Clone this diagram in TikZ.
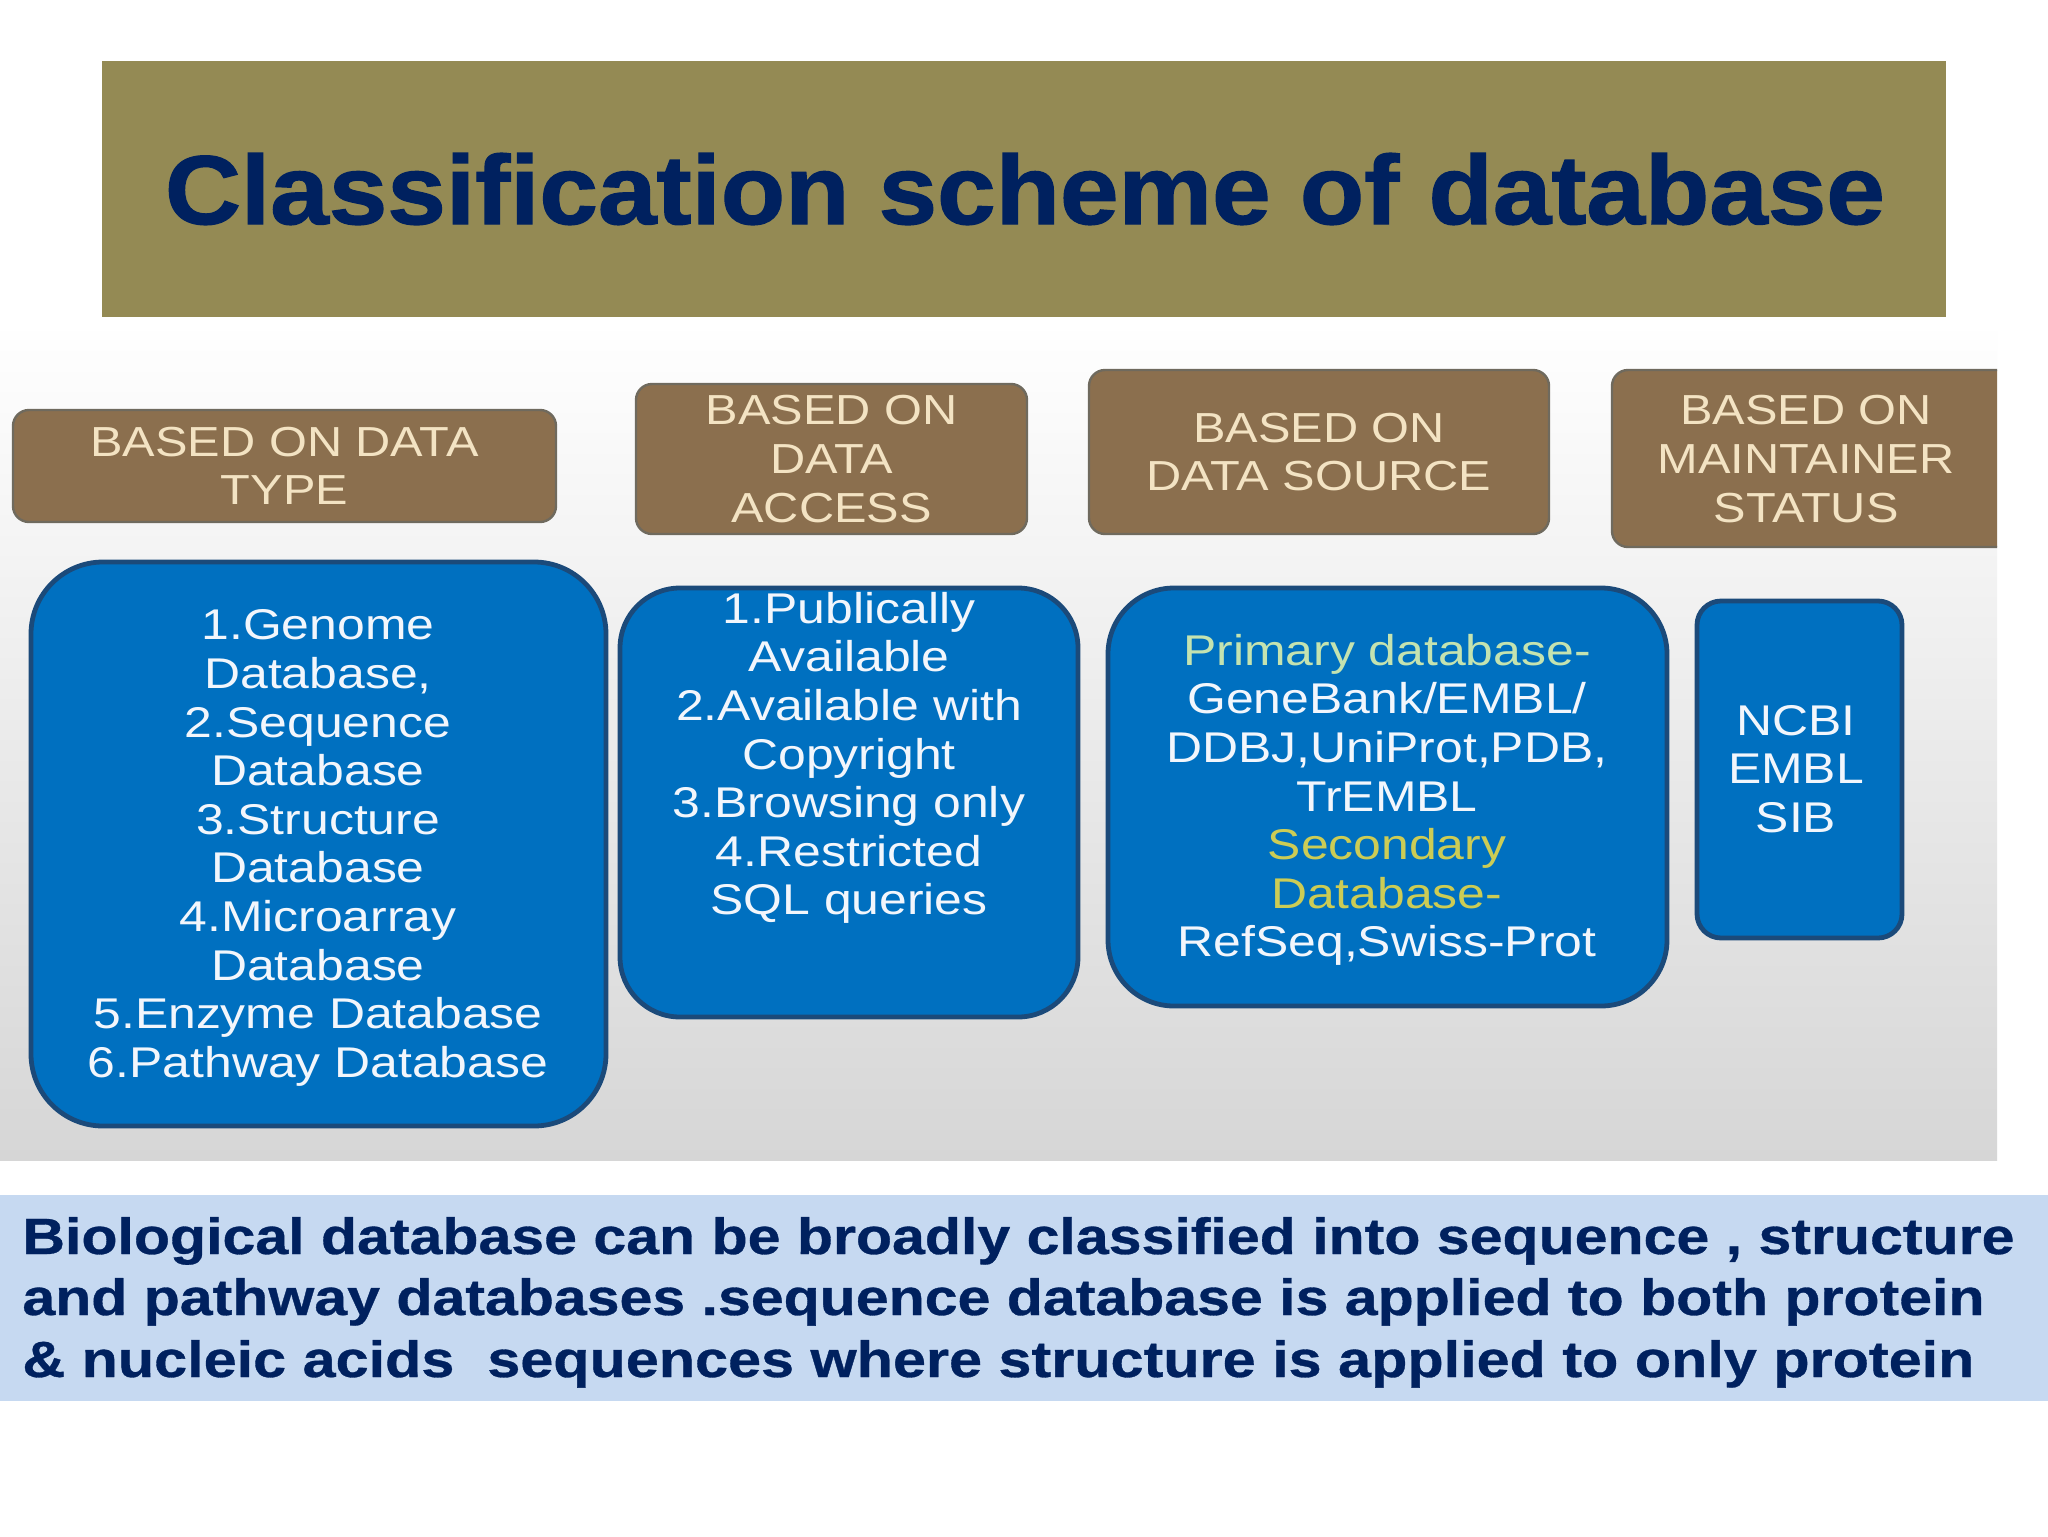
\documentclass[tikz,border=0pt]{standalone}
\usepackage{fontspec}
\usepackage{graphicx}
\setmainfont{Liberation Sans}
\newfontfamily\boxfont[FakeStretch=1.16]{Liberation Sans}
\newfontfamily\titlefont[BoldFeatures={FakeBold=1.2}]{Liberation Sans}
\newfontfamily\bandfont[BoldFeatures={FakeBold=0.6}]{Liberation Sans}
\definecolor{titlebg}{HTML}{948A54}
\definecolor{navytxt}{HTML}{00215F}
\definecolor{hdrbg}{HTML}{8B6F4E}
\definecolor{hdrline}{HTML}{6F6A5E}
\definecolor{hdrtext}{HTML}{F3E3C3}
\definecolor{bboxbg}{HTML}{0070C0}
\definecolor{bboxline}{HTML}{1B4A7A}
\definecolor{bboxtext}{HTML}{F2F6FC}
\definecolor{primgreen}{HTML}{C4E3B0}
\definecolor{secyellow}{HTML}{CCCC55}
\definecolor{bandbg}{HTML}{C6D9F1}
\definecolor{shotgray}{HTML}{D6D6D6}
\tikzset{
  hdr/.style={draw=hdrline, line width=1.2pt, fill=hdrbg, rounded corners=8pt, inner sep=0pt,
    align=center, text=hdrtext, font=\boxfont\fontsize{21}{24.3}\selectfont},
  hdrtxt/.style={inner sep=0pt, align=center, text=hdrtext, font=\boxfont\fontsize{21}{24.3}\selectfont},
  bbox/.style={draw=bboxline, line width=2.4pt, fill=bboxbg, inner sep=0pt},
  btxt/.style={inner sep=0pt, align=center, text=bboxtext, font=\boxfont\fontsize{21.5}{24.3}\selectfont},
  bandline/.style={anchor=base west, inner sep=0pt, text=navytxt, font=\bandfont\bfseries\fontsize{25.5}{30}\selectfont}
}
\begin{document}
\begin{tikzpicture}[x=0.5pt,y=-0.5pt]
\useasboundingbox (0,0) rectangle (2048,1536);
\fill[white] (0,0) rectangle (2048,1536);
% screenshot area
\shade[top color=white, bottom color=shotgray] (0,320) rectangle (1997,1160);

% title banner
\node[fill=titlebg, minimum width=922pt, minimum height=128pt, inner sep=0pt] (banner) at (1024,189) {};
\node[inner sep=0pt, text=navytxt] (title) at (1025,189)
  {\resizebox{860pt}{\height}{\titlefont\bfseries\fontsize{49}{58}\selectfont Classification scheme of database}};

% headers
\node[hdr, minimum width=271.5pt, minimum height=56pt] (h1) at (284.5,466) {BASED ON DATA\\TYPE};
\node[hdr, minimum width=195.5pt, minimum height=75pt] (h2) at (831.5,459) {BASED ON\\DATA\\ACCESS};
\node[hdr, minimum width=230pt, minimum height=82pt] (h3) at (1319,452) {BASED ON\\DATA SOURCE};
\begin{scope}
  \clip (0,0) rectangle (1997,1536);
  \node[hdr, minimum width=209pt, minimum height=88.5pt] (h4) at (1821,458.5) {};
\end{scope}
\node[hdrtxt] (h4t) at (1806,459) {BASED ON\\MAINTAINER\\STATUS};

% blue boxes
\node[bbox, rounded corners=36pt, minimum width=287.5pt, minimum height=282pt] (b1) at (318.5,844) {};
\node[btxt] (b1t) at (318,848) {1.Genome\\Database,\\2.Sequence\\Database\\3.Structure\\Database\\4.Microarray\\Database\\5.Enzyme Database\\6.Pathway Database};

\node[bbox, rounded corners=30pt, minimum width=229pt, minimum height=214.5pt] (b2) at (849,802.5) {};
\node[btxt] (b2t) at (849,758) {1.Publically\\Available\\2.Available with\\Copyright\\3.Browsing only\\4.Restricted\\SQL queries};

\node[bbox, rounded corners=33pt, minimum width=279.5pt, minimum height=209pt] (b3) at (1387.5,797) {};
\node[btxt] (b3t) at (1387,800) {{\color{primgreen}Primary database-}\\GeneBank/EMBL/\\DDBJ,UniProt,PDB,\\TrEMBL\\{\color{secyellow}Secondary}\\{\color{secyellow}Database-}\\RefSeq,Swiss-Prot};

\node[bbox, rounded corners=12pt, minimum width=102.5pt, minimum height=168.5pt] (b4) at (1799.5,769.5) {};
\node[btxt] (b4t) at (1796,769) {NCBI\\EMBL\\SIB};

% bottom band
\node[fill=bandbg, minimum width=1024pt, minimum height=103pt, inner sep=0pt] (band) at (1024,1298) {};
\node[bandline] (l1) at (22,1254) {\resizebox{996pt}{\height}{Biological database can be broadly classified into sequence , structure}};
\node[bandline] (l2) at (22,1315) {\resizebox{981pt}{\height}{and pathway databases .sequence database is applied to both protein}};
\node[bandline] (l3) at (22,1377) {\resizebox{976pt}{\height}{\&{} nucleic acids\ \ sequences where structure is applied to only protein}};
\end{tikzpicture}
\end{document}
